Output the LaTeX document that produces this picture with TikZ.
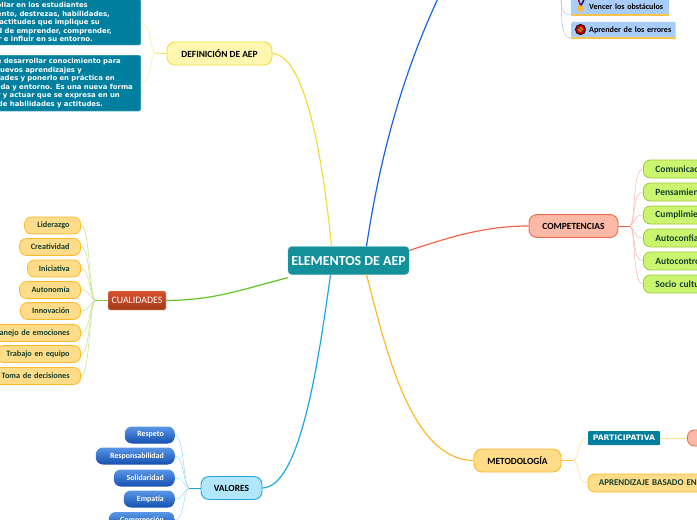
\documentclass[tikz,border=0pt]{standalone}
\usepackage{fontspec}
\setmainfont{Carlito}
\newfontfamily\boxfont{DejaVu Sans}
\usetikzlibrary{positioning,calc}
\definecolor{rootteal}{HTML}{13909A}
\definecolor{boxteal}{HTML}{007F9F}
\definecolor{yellowfill}{HTML}{FFF7B0}
\definecolor{yellowline}{HTML}{F2DD3C}
\definecolor{amberfill}{HTML}{FFDC8A}
\definecolor{amberline}{HTML}{FDB92A}
\definecolor{salmonfill}{HTML}{FBB9A6}
\definecolor{salmonline}{HTML}{F4664A}
\definecolor{limefill}{HTML}{CCF56F}
\definecolor{limeline}{HTML}{9AC83A}
\definecolor{skyfill}{HTML}{B1E6FB}
\definecolor{skyline}{HTML}{1BA6E6}
\definecolor{darkgreen}{HTML}{143F2C}
\definecolor{valortop}{HTML}{5A96E6}
\definecolor{valorbottom}{HTML}{1450B0}
\definecolor{cualitop}{HTML}{D9512C}
\definecolor{cualibottom}{HTML}{A33A17}
\definecolor{goalfill}{HTML}{A9CDFB}
\definecolor{goalline}{HTML}{1466E0}
\newcommand{\linegap}[1]{\rule{#1pt}{0pt}}
\tikzset{
  topic node/.style={draw=#1,line width=.9pt,rounded corners=8pt,font=\bfseries\fontsize{9.4}{10}\selectfont,text=black,minimum height=23pt,inner sep=0pt},
  item node/.style={draw=#1,line width=.8pt,rounded corners=7pt,font=\bfseries\fontsize{8.2}{10}\selectfont,text=darkgreen,minimum height=17pt,inner sep=0pt},
  cuali node/.style={item node=amberline,fill=amberfill,anchor=east,text width=#1,align=right,execute at end node=\hspace*{11pt}},
  valor node/.style={draw=none,top color=valortop,bottom color=valorbottom,rounded corners=7pt,font=\bfseries\fontsize{7.9}{10}\selectfont,text=white,minimum height=17pt,inner sep=0pt,anchor=east,text width=#1,align=right,execute at end node=\hspace*{11pt}},
  compe node/.style={item node=limeline,fill=limefill,anchor=west,font=\bfseries\fontsize{9.5}{10}\selectfont,minimum height=18pt,align=left,text width=90pt,inner xsep=12pt},
  note node/.style={fill=boxteal,draw=boxteal!50!white,line width=.3pt,rounded corners=2pt,font=\boxfont\bfseries\fontsize{6.9}{8.65}\selectfont,text=white,align=right,anchor=north east,text width=200pt,inner xsep=3pt,inner ysep=3pt},
  goal node/.style={fill=goalfill,rounded corners=2pt,font=\bfseries\fontsize{8.1}{10}\selectfont,text=black,anchor=south west,inner sep=0pt,minimum height=16pt,text width=#1},
  main link/.style={line width=1.2pt,draw=#1},
  thin link/.style={line width=.5pt,draw=#1}
}
\begin{document}
\begin{tikzpicture}[x=1pt,y=-1pt]
\useasboundingbox (0,0) rectangle (697,520);
\clip (0,0) rectangle (697,520);
% main nodes
\node[draw=rootteal!80!white,fill=rootteal,rounded corners=4pt,text=white,font=\bfseries\fontsize{13.9}{15}\selectfont,minimum width=121pt,minimum height=28pt,inner sep=0pt] (root) at (348.5,260.5) {ELEMENTOS DE AEP};
\node[topic node=yellowline,fill=yellowfill,minimum width=105pt] (definicion) at (219.5,53.5) {DEFINICIÓN DE AEP};
\node[topic node=salmonline,fill=salmonfill,minimum width=89pt] (competencias) at (573.5,226) {COMPETENCIAS};
\node[topic node=amberline,fill=amberfill,minimum width=87pt] (metodologia) at (517.5,460.5) {METODOLOGÍA};
\node[topic node=skyline,fill=skyfill,minimum width=61pt] (valores) at (231.5,488) {VALORES};
\node[draw=orange!40!white,line width=.3pt,top color=cualitop,bottom color=cualibottom,rounded corners=2pt,text=white,font=\fontsize{9.9}{10}\selectfont,minimum width=58pt,minimum height=19pt,inner sep=0pt] (cualidades) at (137,300.5) {CUALIDADES};
% hubs
\coordinate (hubdef) at (155,53);
\coordinate (hubcomp) at (630,226);
\coordinate (hubcual) at (95,300.5);
\coordinate (hubval) at (189,488);
\coordinate (hubmet) at (573,460.5);
\coordinate (upper) at (452,-30);
\coordinate (uppergoal) at (560,-25);
% notes
\node[note node] (nota1) at (141,-1) {Desarrollar en los estudiantes\linegap{50}\\conocimiento, destrezas, habilidades,\linegap{28}\\valores y actitudes que implique su\linegap{38}\\capacidad de emprender, comprender,\linegap{26}\\crear e influir en su entorno.\linegap{45}};
\node[note node] (nota2) at (141,55) {Capacidad de desarrollar conocimiento para\linegap{17}\\generar nuevos aprendizajes y\linegap{56}\\habilidades y ponerlo en práctica en\linegap{23}\\su vida y entorno. Es una nueva forma\linegap{5}\\de ser y actuar que se expresa en un\linegap{18}\\conjunto de habilidades y actitudes.\linegap{35}};
% cualidades
\node[cuali node=56pt] (liderazgo) at (81,225.5) {Liderazgo};
\node[cuali node=61pt] (creatividad) at (81,247) {Creatividad};
\node[cuali node=53pt] (iniciativa) at (81,268.5) {Iniciativa};
\node[cuali node=61pt] (autonomia) at (81,290) {Autonomía};
\node[cuali node=60pt] (innovacion) at (81,311) {Innovación};
\node[cuali node=92pt] (manejo) at (81,333) {Manejo de emociones};
\node[cuali node=84pt] (trabajo) at (81,354) {Trabajo en equipo};
\node[cuali node=90pt] (toma) at (81,376) {Toma de decisiones};
% valores
\node[valor node=50pt] (respeto) at (175,435) {Respeto};
\node[valor node=79pt] (responsabilidad) at (175,456) {Responsabilidad};
\node[valor node=61pt] (solidaridad) at (175,478) {Solidaridad};
\node[valor node=51pt] (empatia) at (175,499) {Empatía};
\node[valor node=66pt] (comprension) at (175,520.5) {Comprensión};
% competencias
\node[compe node] (comunicacion) at (643,169) {Comunicación};
\node[compe node] (pensamiento) at (643,192) {Pensamiento crítico};
\node[compe node] (cumplimiento) at (643,215) {Cumplimiento};
\node[compe node] (autoconfianza) at (643,238) {Autoconfianza};
\node[compe node] (autocontrol) at (643,261) {Autocontrol};
\node[compe node] (sociocultural) at (643,284) {Socio cultural};
% metodologia
\node[fill=boxteal,rounded corners=1pt,font=\boxfont\bfseries\fontsize{7.6}{8}\selectfont,text=white,minimum width=72pt,minimum height=14pt,inner sep=0pt] (participativa) at (624,438) {PARTICIPATIVA};
\node[draw=salmonline,fill=salmonfill,line width=.8pt,rounded corners=7pt,anchor=west,minimum width=50pt,minimum height=16pt] (activa) at (687,438) {};
\node[item node=amberline,fill=amberfill,anchor=west,font=\bfseries\fontsize{8.9}{10}\selectfont,minimum height=18pt,text width=190pt,align=left] (aprendizaje) at (587.5,483) {\hspace*{11pt}APRENDIZAJE BASADO EN PROYECTOS};
% goals
\node[goal node=98pt] (vencer) at (571,15) {\hspace*{18pt}Vencer los obstáculos};
\node[goal node=104.5pt] (aprender) at (571,38) {\hspace*{18pt}Aprender de los errores};
\draw[draw=amberline!85!white,line width=1.2pt] (vencer.south west) -- (vencer.south east);
\draw[draw=amberline!85!white,line width=1.2pt] (aprender.south west) -- (aprender.south east);
% icons
\fill[red!70!black] (577.5,-1) -- (580,6) -- (581.5,6) -- (579,-1) -- cycle;
\fill[blue!50!black] (583.5,-1) -- (580,6) -- (581.5,6) -- (585,-1) -- cycle;
\fill[amberline] (580.8,8.5) circle (3.2pt);
\fill[black!75!red] (580.5,29.5) circle (5.6pt);
\fill[red!80!black] (580.5,29.5) circle (4.4pt);
\fill[orange] (580.5,29.5) circle (2.4pt);
\draw[black!75,line width=.8pt] (577.5,26.5) -- (583.5,32.5);
% branches
\draw[main link=yellowline] (definicion.east) .. controls (296,54) and (318,110) .. ([xshift=-17pt]root.north);
\draw[main link=goalline] ([xshift=18pt]root.north) .. controls (378,170) and (400,70) .. (upper);
\draw[main link=salmonline] (root.east) ++(0,-10) .. controls (450,237) and (485,226) .. (competencias.west);
\draw[main link=amberline] ([xshift=18pt]root.south) .. controls (385,345) and (410,460) .. (metodologia.west);
\draw[main link=skyline] ([xshift=-18pt]root.south) .. controls (318,365) and (300,487) .. (valores.east);
\draw[main link=limeline!70!green!90!black] ([yshift=-3pt]root.south west) .. controls (240,290) and (215,300) .. (cualidades.east);
% links
\draw[thin link=yellowline,line width=.8pt] (definicion.west) -- (hubdef);
\draw[thin link=yellowfill!70!yellowline] (hubdef) .. controls (150,50) and (152,23) .. (141,23);
\draw[thin link=yellowfill!70!yellowline] (hubdef) .. controls (150,56) and (152,83) .. (141,83);
\draw[thin link=limeline!80!green,line width=.9pt] (cualidades.west) -- (hubcual);
\draw[thin link=limeline!60!white] (hubcual) .. controls (89,295) and (90,225.5) .. (liderazgo.east);
\draw[thin link=limeline!60!white] (hubcual) .. controls (89,295) and (90,247) .. (creatividad.east);
\draw[thin link=limeline!60!white] (hubcual) .. controls (89,295) and (90,268.5) .. (iniciativa.east);
\draw[thin link=limeline!60!white] (hubcual) .. controls (89,297) and (90,290) .. (autonomia.east);
\draw[thin link=limeline!60!white] (hubcual) .. controls (89,303) and (90,311) .. (innovacion.east);
\draw[thin link=limeline!60!white] (hubcual) .. controls (89,305) and (90,333) .. (manejo.east);
\draw[thin link=limeline!60!white] (hubcual) .. controls (89,305) and (90,354) .. (trabajo.east);
\draw[thin link=limeline!60!white] (hubcual) .. controls (89,305) and (90,376) .. (toma.east);
\draw[thin link=skyline,line width=.9pt] (valores.west) -- (hubval);
\draw[thin link=skyline!45!white] (hubval) .. controls (183,484) and (184,435) .. (respeto.east);
\draw[thin link=skyline!45!white] (hubval) .. controls (183,484) and (184,456) .. (responsabilidad.east);
\draw[thin link=skyline!45!white] (hubval) .. controls (183,486) and (184,478) .. (solidaridad.east);
\draw[thin link=skyline!45!white] (hubval) .. controls (183,490) and (184,499) .. (empatia.east);
\draw[thin link=skyline!45!white] (hubval) .. controls (183,492) and (184,520) .. (comprension.east);
\draw[thin link=salmonline,line width=.9pt] (competencias.east) -- (hubcomp);
\draw[thin link=salmonline!50!white] (hubcomp) .. controls (636,222) and (632,169) .. (comunicacion.west);
\draw[thin link=salmonline!50!white] (hubcomp) .. controls (636,222) and (632,192) .. (pensamiento.west);
\draw[thin link=salmonline!50!white] (hubcomp) .. controls (636,224) and (632,215) .. (cumplimiento.west);
\draw[thin link=salmonline!50!white] (hubcomp) .. controls (636,228) and (632,238) .. (autoconfianza.west);
\draw[thin link=salmonline!50!white] (hubcomp) .. controls (636,230) and (632,261) .. (autocontrol.west);
\draw[thin link=salmonline!50!white] (hubcomp) .. controls (636,230) and (632,284) .. (sociocultural.west);
\draw[thin link=amberline,line width=.8pt] (metodologia.east) -- (hubmet);
\draw[thin link=amberfill] (hubmet) .. controls (581,458) and (576,438) .. (participativa.west);
\draw[thin link=amberfill] (hubmet) .. controls (581,463) and (576,483) .. (aprendizaje.west);
\draw[thin link=amberfill,line width=.8pt] (participativa.east) -- (activa.west);
\draw[thin link=goalfill,line width=.6pt] (uppergoal) .. controls (562,0) and (558,15) .. (vencer.south west);
\draw[thin link=goalfill,line width=.6pt] (uppergoal) .. controls (563,10) and (558,38) .. (aprender.south west);
\end{tikzpicture}
\end{document}
